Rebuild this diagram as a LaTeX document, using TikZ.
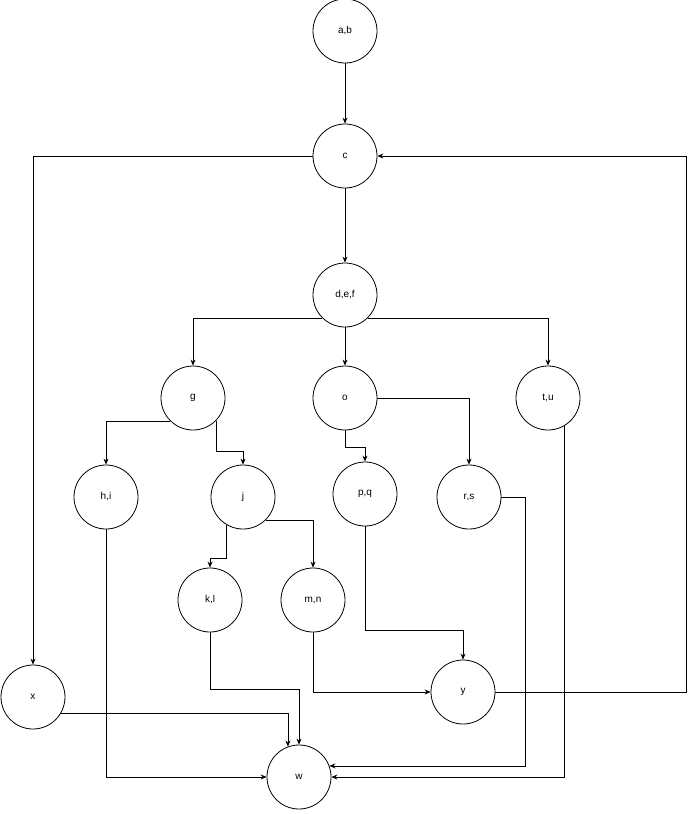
\documentclass[tikz,border=0pt]{standalone}
\usepackage{fontspec}
\setmainfont{Liberation Sans}
\usetikzlibrary{arrows.meta}
\begin{document}
\begin{tikzpicture}[x=1pt,y=-1pt,
  st/.style={circle,draw,line width=0.8pt,minimum size=64pt,inner sep=0pt,font=\fontsize{10}{11}\selectfont},
  ar/.style={draw,line width=0.8pt,-{Stealth[length=6pt,width=5pt]}}]
\useasboundingbox (0,0) rectangle (695,814);
\node[st] (ab) at (345,31) {a,b};
\node[st] (c) at (345,156) {c};
\node[st] (def) at (345,295) {d,e,f};
\node[st] (g) at (193,398) {g};
\node[st] (o) at (345,398) {o};
\node[st] (tu) at (548,398) {t,u};
\node[st] (hi) at (106,497) {h,i};
\node[st] (j) at (243,497) {j};
\node[st] (pq) at (365,494) {p,q};
\node[st] (rs) at (469,497) {r,s};
\node[st] (kl) at (210,600) {k,l};
\node[st] (mn) at (313,600) {m,n};
\node[st] (x) at (33,697) {x};
\node[st] (y) at (463,692) {y};
\node[st] (w) at (299,777) {w};
\path[ar] (ab) -- (c);
\path[ar] (c.west) -| (x.north);
\path[ar] (y.east) -- ++(191,0) |- (c.east);
\path[ar] (c) -- (def);
\path[ar] (def.225) -| (g.north);
\path[ar] (def.315) -| (tu.north);
\path[ar] (def) -- (o);
\path[ar] (g.225) -| (hi.north);
\path[ar] (g.-45) -- ++(0,30) -| (j.north);
\path[ar] (o.south) -- ++(0,17) -| (pq.north);
\path[ar] (o.east) -| (rs.north);
\path[ar] (j.240) -- ++(0,33) -| (kl.north);
\path[ar] (j.-45) -| (mn.north);
\path[ar] (hi.south) |- (w.west);
\path[ar] (kl.south) -- ++(0,57) -| (w.north);
\path[ar] (x.-30) -| (w.110);
\path[ar] (mn.south) |- (y.west);
\path[ar] (pq.south) -- ++(0,104) -| (y.north);
\path[ar] (rs.east) -- ++(24,0) |- (w.20);
\path[ar] (tu.-60) |- (w.east);
\end{tikzpicture}
\end{document}
